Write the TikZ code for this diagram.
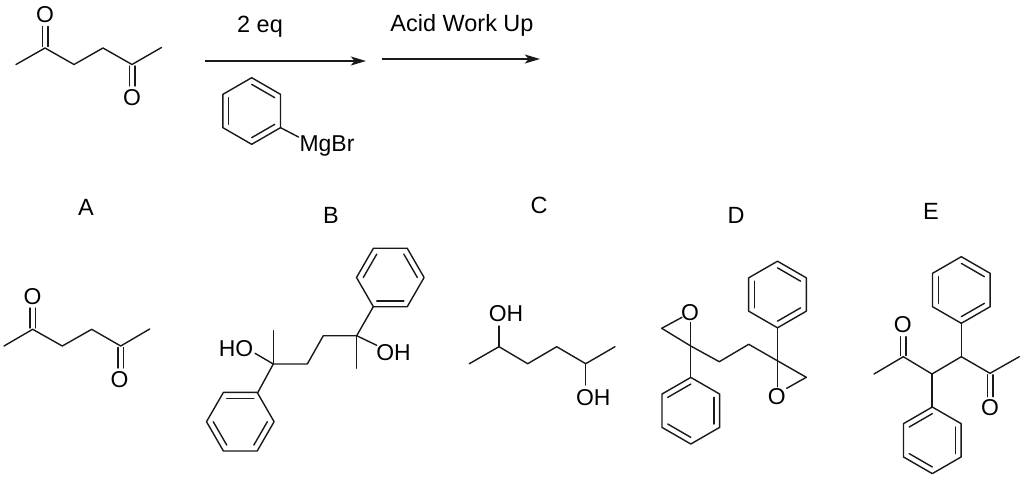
\documentclass[tikz,border=0pt]{standalone}
\usepackage{fontspec}
\setmainfont{Liberation Sans}
\usetikzlibrary{calc,arrows.meta}
\tikzset{
  x=0.75pt,y=-0.75pt,
  bond/.style={line width=1.05pt,line cap=round,line join=round,black!90},
  atomlabel/.style={inner sep=0pt,font=\fontsize{17.2}{20}\selectfont},
  caption/.style={inner sep=0pt,font=\fontsize{17.6}{20}\selectfont},
  rxnarrow/.style={line width=1.05pt,black!90,-{Stealth[length=11.5pt,width=6.8pt,inset=3pt]}}
}
% vertices: \vt{name/x/y,...}
\newcommand\vt[1]{\foreach \n/\xx/\yy in {#1}{\coordinate (\n) at (\xx,\yy);}}
% polyline through named vertices
\newcommand\chain[1]{\draw[bond] #1;}
% double bond along a vertical axis: two lines 2.8px either side
\newcommand\dbl[2]{%
  \draw[bond] ([xshift=-2.1pt]#1) -- ([xshift=-2.1pt]#2);
  \draw[bond] ([xshift=2.1pt]#1) -- ([xshift=2.1pt]#2);}
% benzene: name, cx, cy, radius, start angle, first vertices of the three inner lines
\newcommand\benzene[6]{%
  \coordinate (#1c) at (#2,#3);
  \foreach \i in {0,...,5}{\coordinate (#1\i) at ($(#1c)+(#5+60*\i:#4)$);}
  \draw[bond] (#10)--(#11)--(#12)--(#13)--(#14)--(#15)--cycle;
  \foreach \i in {#6}{
    \pgfmathtruncatemacro\j{mod(\i+1,6)}
    \draw[bond] ($(#1c)!.8!(#1\i)$) -- ($(#1c)!.8!(#1\j)$);}
}
\begin{document}
\begin{tikzpicture}
\useasboundingbox (0,0) rectangle (1024,479);
\fill[white] (0,0) rectangle (1024,479);

% --- starting diketone
\node[atomlabel] (so1) at (45,15) {O};
\node[atomlabel] (so2) at (132,98) {O};
\vt{sa/16/64.5, sb/45/48, sc/74/64.5, sd/103/48, se/132/64.5, sf/161.5/47.5,
    sbt/45/26.5, sbb/45/46.5, set/132/66, seb/132/86}
\chain{(sa)--(sb)--(sc)--(sd)--(se)--(sf)}
\dbl{sbt}{sbb}
\dbl{set}{seb}

% --- arrows and reagent
\vt{ar1a/205/61, ar1b/366/61, ar2a/382/59, ar2b/540/59}
\draw[rxnarrow] (ar1a) -- (ar1b);
\draw[rxnarrow] (ar2a) -- (ar2b);
\node[caption] (eq) at (260,27) {2 eq};
\node[caption] (work) at (462,25) {Acid Work Up};
\benzene{r}{251.7}{111}{33.3}{-90}{0,2,4}
\node[atomlabel] (mgbr) at (327,146) {MgBr};
\vt{rt/298.5/137}
\chain{(r2)--(rt)}

% --- answer letters
\node[caption] (la) at (86,207) {A};
\node[caption] (lb) at (331,215) {B};
\node[caption] (lc) at (539,205) {C};
\node[caption] (ld) at (736,215) {D};
\node[caption] (le) at (931,211) {E};

% --- A
\node[atomlabel] (ao1) at (32.5,296.7) {O};
\node[atomlabel] (ao2) at (119.5,380) {O};
\vt{aa/4/346, ab/32.7/329.3, ac/62.3/346, ad/91.7/329.3, ae/120.7/346, af/149.7/329,
    abt/32.7/308, abb/32.7/328, aet/120.7/347.5, aeb/120.7/368}
\chain{(aa)--(ab)--(ac)--(ad)--(ae)--(af)}
\dbl{abt}{abb}
\dbl{aet}{aeb}

% --- B
\node[atomlabel] (bho) at (236,348.5) {HO};
\node[atomlabel] (boh) at (393.5,352.7) {OH};
\vt{bc1/273.3/364, bm1/273.3/330.7, bh1/255/353.3, bc2/307.3/364, bc3/323.3/335.7,
    bc4/356.7/335.7, bm2/356.7/368.3, bh2/376.7/345.3, bp1/257.7/392.7, bp2/373.3/306.7}
\chain{(bc1)--(bc2)--(bc3)--(bc4)}
\chain{(bc1)--(bm1)}
\chain{(bc1)--(bh1)}
\chain{(bc1)--(bp1)}
\chain{(bc4)--(bm2)}
\chain{(bc4)--(bh2)}
\chain{(bc4)--(bp2)}
\benzene{bu}{390.3}{277.5}{33.8}{0}{1,3,5}
\benzene{bl}{240.3}{421.7}{33.8}{0}{0,2,4}

% --- C
\node[atomlabel] (coh1) at (506,314) {OH};
\node[atomlabel] (coh2) at (593.3,397.3) {OH};
\vt{ca/469.3/363.7, cb/499/346.7, cc/527.7/363.7, cd/556.7/346.7, ce/585.7/363.7, cf/615/346.7,
    cbt/499/326, cet/585.7/385}
\chain{(ca)--(cb)--(cc)--(cd)--(ce)--(cf)}
\chain{(cb)--(cbt)}
\chain{(ce)--(cet)}

% --- D
\node[atomlabel] (do1) at (690,312.2) {O};
\node[atomlabel] (do2) at (776.7,397) {O};
\vt{de1/661.7/328.3, dc1/690.7/346, dc2/719.3/361.7, dc3/748.7/344.3, dc4/777.3/360.7,
    de2/806.3/377.3, do1a/690.7/322.5, do1b/682/317.3, do2a/777.3/386.7, do2b/786.7/388.3,
    dp1/690.7/377.3, dp2/777.3/327.7}
\chain{(de1)--(dc1)--(dc2)--(dc3)--(dc4)--(de2)}
\chain{(de1)--(do1b)}
\chain{(dc1)--(do1a)}
\chain{(dc4)--(do2a)}
\chain{(de2)--(do2b)}
\chain{(dc1)--(dp1)}
\chain{(dc4)--(dp2)}
\benzene{du}{777.5}{294.5}{33.3}{-90}{0,2,4}
\benzene{dl}{690.8}{410.7}{33.3}{-90}{1,3,5}

% --- E
\node[atomlabel] (eo1) at (902.7,325) {O};
\node[atomlabel] (eo2) at (990,407.7) {O};
\vt{ea/874/374, eb/903.3/356.7, ec/932/374, ed/961.3/356.7, ee/990/373.3, ef/1019.3/356.7,
    ebt/903.3/336.7, ebb/903.3/355.5, eet/990/374.8, eeb/990/396.7, ep1/932/407.3, ep2/961.3/323.3}
\chain{(ea)--(eb)--(ec)--(ed)--(ee)--(ef)}
\dbl{ebt}{ebb}
\dbl{eet}{eeb}
\chain{(ec)--(ep1)}
\chain{(ed)--(ep2)}
\benzene{eu}{961.3}{290}{33.3}{-90}{0,2,4}
\benzene{el}{932.3}{440.3}{33.3}{-90}{1,3,5}
\end{tikzpicture}
\end{document}
